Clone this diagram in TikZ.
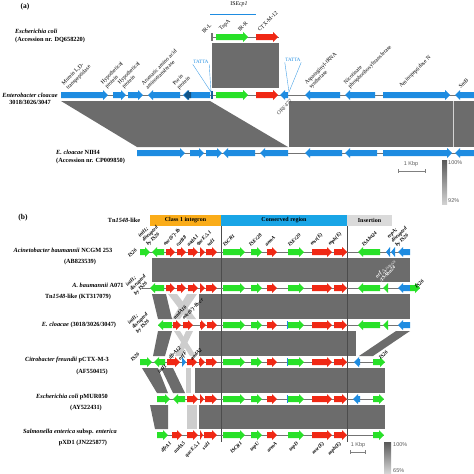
\documentclass[tikz,border=0pt]{standalone}
\usepackage{fontspec}
\setmainfont{Liberation Serif}
\setsansfont{Liberation Sans}
\usetikzlibrary{positioning}

\definecolor{ggreen}{RGB}{40,225,40}
\definecolor{gred}{RGB}{240,40,20}
\definecolor{gblue}{RGB}{30,140,225}
\definecolor{blk}{RGB}{108,108,108}
\definecolor{lgray}{RGB}{205,205,205}
\definecolor{hdorange}{RGB}{250,172,25}
\definecolor{hdblue}{RGB}{25,165,230}
\definecolor{hdgray}{RGB}{218,218,218}

\tikzstyle{panel}=[font=\fontsize{7.5}{8}\selectfont\bfseries, inner sep=0pt]
\tikzstyle{strain}=[font=\fontsize{6.3}{7.6}\selectfont\bfseries, inner sep=0pt]
\tikzstyle{protein}=[font=\fontsize{5.6}{6.2}\selectfont, rotate=45, align=left, inner sep=0pt, anchor=south west]
\tikzstyle{gene}=[font=\fontsize{5.2}{5.8}\selectfont\bfseries\itshape, rotate=45, align=left, inner sep=0pt]
\tikzstyle{tatta}=[font=\fontsize{5}{5.5}\selectfont, text=gblue, inner sep=0.5pt]
\tikzstyle{backbone}=[draw=black!55, line width=0.6pt]
\tikzstyle{header}=[font=\fontsize{6}{7}\selectfont\bfseries, inner sep=0pt]
\tikzstyle{scalelbl}=[font=\sffamily\fontsize{5.5}{6}\selectfont, text=black!65, inner sep=0pt]
\tikzstyle{divider}=[draw=black!70, line width=0.4pt]

% right / left pointing gene arrows: colour, from, to, y
\newcommand{\gr}[4]{%
  \pgfmathsetmacro{\hb}{max(#2,#3-5)}
  \fill[#1] (#2,#4-3) -- (\hb,#4-3) -- (\hb,#4-5) -- (#3,#4) -- (\hb,#4+5) -- (\hb,#4+3) -- (#2,#4+3) -- cycle;}
\newcommand{\gl}[4]{%
  \pgfmathsetmacro{\hb}{min(#3,#2+5)}
  \fill[#1] (#3,#4-3) -- (\hb,#4-3) -- (\hb,#4-5) -- (#2,#4) -- (\hb,#4+5) -- (\hb,#4+3) -- (#3,#4+3) -- cycle;}

\begin{document}
\begin{tikzpicture}[x=1pt,y=-1pt]
\useasboundingbox (0,0) rectangle (474,474);

%% (a)
\node[panel] (pa) at (25,7) {(a)};
\node[font=\fontsize{5.8}{6}\selectfont, inner sep=0pt] (isecp) at (239,4) {IS\textit{Ecp1}};
\draw[gblue, line width=0.8pt] (210,14) -- (256,14);

\node[strain, anchor=west, align=left] (ecoli) at (15,36) {\textit{Escherichia coli}\\(Accession nr. DQ658220)};
\node[strain, align=center] (ecl) at (30,99) {\textit{Enterobacter cloacae}\\3018/3026/3047};
\node[strain, anchor=west, align=left] (nih) at (56,157) {\textit{E. cloacae} NIH4\\(Accession nr. CP009850)};

% similarity blocks
\fill[blk] (212,43) rectangle (279,88);
\fill[blk] (61,101) -- (210,101) -- (288,147) -- (137,147) -- cycle;
\fill[blk] (289,101) rectangle (474,147);
\draw[white!70!blk, line width=0.5pt] (453,101) -- (453,147);

% tracks
\draw[backbone] (212,37) -- (279,37);
\draw[backbone] (61,95) -- (474,95);
\draw[backbone] (137,153) -- (474,153);
\fill[black!55] (211.3,33) rectangle (212.7,41);
\fill[gblue!70!black] (211.3,91) rectangle (212.7,99);
\gr{ggreen}{216}{248}{37} \gr{gred}{256}{278}{37}
\gr{ggreen}{216}{248}{95} \gr{gred}{256}{278}{95} \gl{gblue}{280}{288}{95}
\foreach \a/\b in {61/108,113/126,128/143,383/450} \gr{gblue}{\a}{\b}{95};
\foreach \a/\b in {148/180,183/210,305/340,345/375,455/474} \gl{gblue}{\a}{\b}{95};
\gl{gblue!60!black}{184}{191}{95}
\foreach \a/\b in {137/185,190/204,206/222,383/452} \gr{gblue}{\a}{\b}{153};
\foreach \a/\b in {223/255,260/288,305/342,345/377,455/474} \gl{gblue}{\a}{\b}{153};

% labels
\node[protein] (irl) at (204,34) {IR-L};
\node[protein] (tnpa) at (222,32) {TnpA};
\node[protein] (irr) at (240,32) {IR-R};
\node[protein] (ctx) at (260,32) {CTX-M-12};
\node[protein] (murein) at (69,91) {Murein L,D-\\transpeptidase};
\node[protein] (hyp1) at (108,90) {Hypothetical\\protein};
\node[protein] (hyp2) at (125,90) {Hypothetical\\protein};
\node[protein] (arom) at (148,90) {Aromatic amino acid\\aminotransferase};
\node[protein] (porin) at (180,91) {Porin\\protein};
\node[protein] (asn) at (312,90) {Asparaginyl-tRNA\\synthetase};
\node[protein] (nic) at (351,90) {Nicotinate\\phosphoribosyltransferase};
\node[protein] (amino) at (402,89) {Aminopeptidase N};
\node[protein] (smb) at (461,89) {SmB};
\node[protein, anchor=north east, text=black!75] (orf) at (290,99) {ORF477};

\node[tatta] (tattaL) at (201,62) {TATTA};
\node[tatta] (tattaR) at (293,60) {TATTA};
\coordinate (irLpt) at (211,92);
\coordinate (irRpt) at (289,92);
\draw[gblue!80, line width=0.4pt] (tattaL.south west) -- (irLpt) -- (tattaL.south east);
\draw[gblue!80, line width=0.4pt] (tattaR.south west) -- (irRpt) -- (tattaR.south east);

% scale
\node[scalelbl] (kbpa) at (411,164) {1 Kbp};
\draw[black!50, line width=0.4pt] (398,171) -- (425,171) (398,169) -- (398,173) (425,169) -- (425,173);
\shade[top color=black!65, bottom color=black!18] (442,160) rectangle (447,204);
\node[scalelbl, anchor=west] (hia) at (448,163) {100\%};
\node[scalelbl, anchor=west] (loa) at (448,201) {92\%};

%% (b)
\node[panel] (pb) at (23,218) {(b)};
\node[strain] (tn) at (124,220) {Tn\textit{1548}-like};
\fill[hdorange] (150,215) rectangle (221,226);
\fill[hdblue] (221,215) rectangle (347,226);
\fill[hdgray] (347,215) rectangle (392,226);
\node[header] (cls) at (185.5,220.5) {Class 1 integron};
\node[header] (cons) at (284,220.5) {Conserved region};
\node[header] (ins) at (369.5,220.5) {Insertion};

\node[strain] (s1a) at (63,250) {\textit{Acinetobacter baumannii} NCGM 253};
\node[strain] (s1b) at (80,262) {(AB823539)};
\node[strain] (s2a) at (98,285) {\textit{A. baumannii} A071};
\node[strain] (s2b) at (78,297) {Tn\textit{1548}-like (KT317079)};
\node[strain] (s3a) at (79,325) {\textit{E. cloacae} (3018/3026/3047)};
\node[strain] (s4a) at (67,360) {\textit{Citrobacter freundii} pCTX-M-3};
\node[strain] (s4b) at (92,372) {(AF550415)};
\node[strain] (s5a) at (72,397) {\textit{Escherichia coli} pMUR050};
\node[strain] (s5b) at (86,408) {(AY522431)};
\node[strain] (s6a) at (70,432) {\textit{Salmonella enterica} subsp. \textit{enterica}};
\node[strain] (s6b) at (83,443) {pXD1 (JN225877)};

% similarity blocks
\fill[blk] (152,258) rectangle (410,282);
\fill[blk] (152,294) -- (166,294) -- (172,319) -- (158,319) -- cycle;
\fill[lgray] (168,294) -- (177,294) -- (196,319) -- (187,319) -- cycle;
\fill[lgray] (187,294) -- (197,294) -- (180,319) -- (172,319) -- cycle;
\fill[blk] (199,294) rectangle (410,319);
\fill[blk] (158,331) -- (172,331) -- (165,356) -- (153,356) -- cycle;
\fill[lgray] (174,331) -- (180,331) -- (196,356) -- (190,356) -- cycle;
\fill[lgray] (186,331) -- (193,331) -- (181,356) -- (175,356) -- cycle;
\fill[blk] (199,331) rectangle (356,356);
\fill[blk] (396,331) -- (410,331) -- (373,356) -- (359,356) -- cycle;
\fill[blk] (142,368) -- (158,368) -- (168,393) -- (157,393) -- cycle;
\fill[blk] (161,368) -- (173,368) -- (185,393) -- (173,393) -- cycle;
\fill[lgray] (186,368) rectangle (191,393);
\fill[blk] (195,368) rectangle (385,393);
\fill[blk] (150,405) -- (168,405) -- (168,429) -- (155,429) -- cycle;
\fill[lgray] (187,405) rectangle (197,429);
\fill[blk] (199,405) rectangle (385,429);
\draw[divider] (221,226) -- (221,442);
\draw[divider] (347,226) -- (347,442);

% tracks
\draw[backbone] (140,252) -- (410,252);
\draw[backbone] (142,288) -- (420,288);
\draw[backbone] (158,325) -- (410,325);
\draw[backbone] (140,362) -- (385,362);
\draw[backbone] (157,399) -- (384,399);
\draw[backbone] (157,435) -- (384,435);

% conserved region, common to all
\foreach \y in {252,288,325,362,399,435} {
  \gr{ggreen}{223}{245}{\y} \gr{ggreen}{251}{262}{\y} \gr{gred}{267}{277}{\y}
  \gr{ggreen}{288}{304}{\y} \gr{gred}{312}{332}{\y} \gr{gred}{334}{347}{\y}
}
\foreach \y in {325,362,399} \fill[gblue] (286.5,\y-4) rectangle (287.5,\y+4);

% track 1
\gr{ggreen}{140}{150}{252} \gl{ggreen}{152}{164}{252}
\foreach \a/\b in {166/175,177/186,188/198,200/205,206/217} \gr{gred}{\a}{\b}{252};
\gl{ggreen}{358}{380}{252} \gl{gblue}{386}{390}{252} \gl{gblue}{391}{395}{252} \gl{gblue}{398}{410}{252}
% track 2
\gl{ggreen}{150}{164}{288}
\foreach \a/\b in {166/175,177/186,188/198,200/205,206/217} \gr{gred}{\a}{\b}{288};
\gl{ggreen}{358}{380}{288} \gl{ggreen}{383}{388}{288} \gl{gblue}{398}{410}{288} \gr{ggreen}{410}{420}{288}
% track 3
\gl{ggreen}{158}{172}{325}
\foreach \a/\b in {173/181,183/193,200/206,207/217} \gr{gred}{\a}{\b}{325};
\gl{ggreen}{358}{380}{325} \gl{ggreen}{383}{388}{325} \gl{gblue}{398}{410}{325}
% track 4
\gr{ggreen}{140}{152}{362} \gl{ggreen}{154}{165}{362} \gr{gred}{167}{180}{362} \gr{gblue}{182}{186}{362}
\foreach \a/\b in {187/197,199/205,206/217} \gr{gred}{\a}{\b}{362};
\gl{gblue}{354}{360}{362} \gr{ggreen}{373}{385}{362}
% track 5
\gr{ggreen}{157}{170}{399} \gl{ggreen}{173}{185}{399}
\foreach \a/\b in {187/198,200/204,205/217} \gr{gred}{\a}{\b}{399};
\gl{gblue}{353}{360}{399} \gr{ggreen}{373}{384}{399}
% track 6
\gr{ggreen}{157}{168}{435}
\foreach \a/\b in {172/182,187/198,200/203,204/217} \gr{gred}{\a}{\b}{435};
\gr{ggreen}{373}{384}{435}

% gene labels
\node[gene, anchor=south west] (g1is) at (130,258) {IS26};
\node[gene, anchor=south west] (g1int) at (149,247) {intI1;\\disrupted\\by IS26};
\node[gene, anchor=south west] (g1aac) at (166,247) {aac(6')-Ib};
\node[gene, anchor=south west] (g1cat) at (178,247) {catB8};
\node[gene, anchor=south west] (g1aad) at (189,247) {aadA1};
\node[gene, anchor=south west] (g1qac) at (199,247) {qacE$\Delta$1};
\node[gene, anchor=south west] (g1sul) at (209,247) {sul1};
\node[gene, anchor=south west] (g1cr) at (225,247) {ISCR1};
\node[gene, anchor=south west] (g1e28) at (251,247) {ISEc28};
\node[gene, anchor=south west] (g1arm) at (267,247) {armA};
\node[gene, anchor=south west] (g1e29) at (290,247) {ISEc29};
\node[gene, anchor=south west] (g1msr) at (313,247) {msr(E)};
\node[gene, anchor=south west] (g1mph) at (331,247) {mph(E)};
\node[gene, anchor=south west] (g1aba) at (364,247) {ISAba24};
\node[gene, anchor=south west] (g1rep) at (398,248) {repA;\\disrupted\\by IS26};
\node[gene] (g2int) at (138,283) {intI1;\\disrupted\\by IS26};
\node[gene, text=white] (g2orf) at (387,270) {orf$_{\Delta\mathit{ISAba24}}$\\/ISAba24};
\node[gene, anchor=south west] (g2is) at (417,289) {IS26};
\node[gene] (g3int) at (140,321) {intI1;\\disrupted\\by IS26};
\node[gene] (g3aad) at (180,312) {aadA16};
\node[gene] (g3aac) at (193,309) {aac(6')-Ib-cr};
\node[gene] (g4is) at (135,357) {IS26};
\node[gene] (g4int) at (162,369) {intI1};
\node[gene] (g4dfr) at (175,353) {dfrA12};
\node[gene] (g4orf) at (183,356) {orfF};
\node[gene] (g4aad) at (196,354) {aadA2};
\node[gene, anchor=south west] (g4is2) at (381,360) {IS26};
\node[gene, anchor=north east] (g6dfr) at (169,441) {dfrA1};
\node[gene, anchor=north east] (g6aad) at (183,441) {aadA5};
\node[gene, anchor=north east] (g6qac) at (198,441) {qacE$\Delta$1};
\node[gene, anchor=north east] (g6sul) at (208,441) {sul1};
\node[gene, anchor=north east] (g6cr) at (240,441) {ISCR1};
\node[gene, anchor=north east] (g6tnpu) at (257,441) {tnpU};
\node[gene, anchor=north east] (g6arm) at (275,441) {armA};
\node[gene, anchor=north east] (g6tnpd) at (296,441) {tnpD};
\node[gene, anchor=north east] (g6msr) at (322,441) {msr(E)};
\node[gene, anchor=north east] (g6mph) at (339,441) {mph(E)};

% scale
\node[scalelbl] (kbpb) at (358,445) {1 Kbp};
\draw[black!50, line width=0.4pt] (350,452) -- (365,452) (350,450) -- (350,454) (365,450) -- (365,454);
\shade[top color=black!65, bottom color=black!15] (384,442) rectangle (391,474);
\node[scalelbl, anchor=west] (hib) at (393,445) {100\%};
\node[scalelbl, anchor=west] (lob) at (393,471) {65\%};
\end{tikzpicture}
\end{document}
